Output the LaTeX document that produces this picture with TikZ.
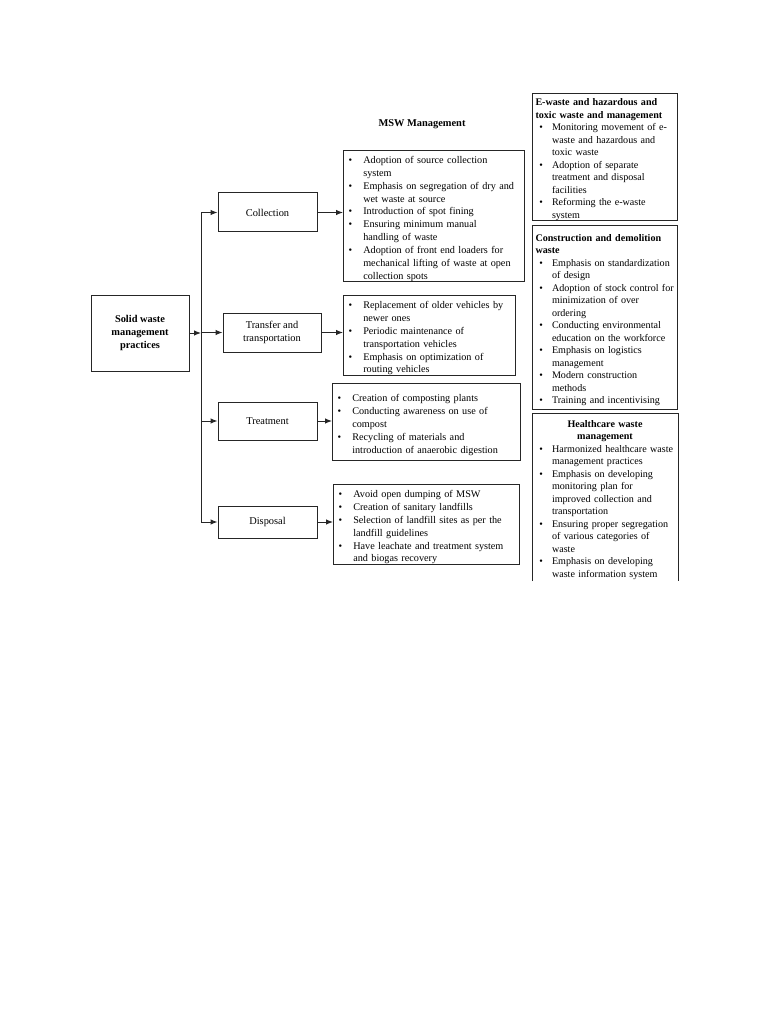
\documentclass[tikz,border=0pt]{standalone}
\usepackage{fontspec}
\setmainfont{Liberation Serif}
\usetikzlibrary{arrows.meta}
\newlength\hangw
\newlength\bpos
\newcommand\bitm[1]{\par\noindent\makebox[\hangw][l]{\hspace*{\bpos}\textbullet}\mbox{#1}}
\newcommand\contl[1]{\par\noindent\hspace*{\hangw}\mbox{#1}}
\newcommand\titl[1]{\par\noindent\mbox{\bfseries #1}}
\newcommand\ctitl[1]{\par\noindent\makebox[\hsize][c]{\bfseries #1}}
\tikzset{
  frame/.style={line width=1pt, draw=black!85},
  box/.style={frame, draw, inner sep=2pt, align=center, font=\fontsize{10.4}{13}\selectfont},
  listbox/.style={frame, draw, anchor=north west, inner xsep=3pt, inner ysep=0pt,
    font=\fontsize{10.2}{12.9}\selectfont,
    execute at begin node={\setlength\hangw{16.8pt}\setlength\bpos{2pt}\setlength\parskip{0pt}}},
  sidebox/.style={listbox, font=\fontsize{10.1}{12.5}\selectfont,
    execute at begin node={\setlength\hangw{16.5pt}\setlength\bpos{3.9pt}\setlength\parskip{0pt}}},
  arr/.style={frame, -{Latex[length=7pt,width=5.5pt]}},
}
\begin{document}
\begin{tikzpicture}[x=1pt,y=-1pt]
\fill[white] (0,0) rectangle (768,1024);
\useasboundingbox (0,0) rectangle (768,1024);

% left boxes
\node[box, minimum width=98pt, minimum height=76pt, font=\fontsize{10.4}{13}\selectfont\bfseries] (solid) at (140,333) {Solid waste\\management\\practices};
\node[box, minimum width=99pt, minimum height=39pt] (coll) at (267.5,212.5) {Collection};
\node[box, minimum width=98pt, minimum height=39pt] (trans) at (272,332.5) {Transfer and\\transportation};
\node[box, minimum width=99pt, minimum height=38pt] (treat) at (267.5,421) {Treatment};
\node[box, minimum width=99pt, minimum height=32pt] (disp) at (267.5,522) {Disposal};

% title
\node[font=\fontsize{10.4}{12}\selectfont\bfseries] (msw) at (422,124) {MSW Management};

% middle lists
\node[listbox, text width=175pt, minimum height=126pt] (collL) at (343,150) {%
\bitm{Adoption of source collection}\contl{system}%
\bitm{Emphasis on segregation of dry and}\contl{wet waste at source}%
\bitm{Introduction of spot fining}%
\bitm{Ensuring minimum manual}\contl{handling of waste}%
\bitm{Adoption of front end loaders for}\contl{mechanical lifting of waste at open}\contl{collection spots}};

\node[listbox, text width=166pt, minimum height=76pt] (transL) at (343,295) {%
\bitm{Replacement of older vehicles by}\contl{newer ones}%
\bitm{Periodic maintenance of}\contl{transportation vehicles}%
\bitm{Emphasis on optimization of}\contl{routing vehicles}};

\node[listbox, text width=182pt, minimum height=77pt] (treatL) at (332,383) {%
\bitm{Creation of composting plants}%
\bitm{Conducting awareness on use of}\contl{compost}%
\bitm{Recycling of materials and}\contl{introduction of anaerobic digestion}};

\node[listbox, text width=180pt, minimum height=76pt] (dispL) at (333,484) {%
\bitm{Avoid open dumping of MSW}%
\bitm{Creation of sanitary landfills}%
\bitm{Selection of landfill sites as per the}\contl{landfill guidelines}%
\bitm{Have leachate and treatment system}\contl{and biogas recovery}};

% right column
\node[sidebox, text width=139pt, minimum height=125pt] (ewaste) at (532,93) {%
\titl{E-waste and hazardous and}\titl{toxic waste and management}%
\bitm{Monitoring movement of e-}\contl{waste and hazardous and}\contl{toxic waste}%
\bitm{Adoption of separate}\contl{treatment and disposal}\contl{facilities}%
\bitm{Reforming the e-waste}\contl{system}};

\node[sidebox, text width=139pt, minimum height=184pt] (constr) at (532,225) {%
\titl{Construction and demolition}\titl{waste}%
\bitm{Emphasis on standardization}\contl{of design}%
\bitm{Adoption of stock control for}\contl{minimization of over}\contl{ordering}%
\bitm{Conducting environmental}\contl{education on the workforce}%
\bitm{Emphasis on logistics}\contl{management}%
\bitm{Modern construction}\contl{methods}%
\bitm{Training and incentivising}};

\node[sidebox, draw=none, text width=139pt, minimum height=167pt] (health) at (532,413) {%
\ctitl{Healthcare waste}\ctitl{management}%
\bitm{Harmonized healthcare waste}\contl{management practices}%
\bitm{Emphasis on developing}\contl{monitoring plan for}\contl{improved collection and}\contl{transportation}%
\bitm{Ensuring proper segregation}\contl{of various categories of}\contl{waste}%
\bitm{Emphasis on developing}\contl{waste information system}};
\draw[frame] (health.south west) -- (health.north west) -- (health.north east) -- (health.south east);

% connectors
\coordinate (jt) at (201,212.5);
\coordinate (jm) at (201,332.5);
\coordinate (jtr) at (201,421);
\coordinate (jb) at (201,522);
\draw[frame] (jt) -- (jb);
\draw[arr] (solid.east) -- (solid.east -| jm);
\draw[arr] (jt) -- (coll.west);
\draw[arr] (jm) -- (trans.west);
\draw[arr] (jtr) -- (treat.west);
\draw[arr] (jb) -- (disp.west);
\draw[arr] (coll.east) -- (coll.east -| collL.west);
\draw[arr] (trans.east) -- (trans.east -| transL.west);
\draw[arr] (treat.east) -- (treat.east -| treatL.west);
\draw[arr] (disp.east) -- (disp.east -| dispL.west);
\end{tikzpicture}
\end{document}
